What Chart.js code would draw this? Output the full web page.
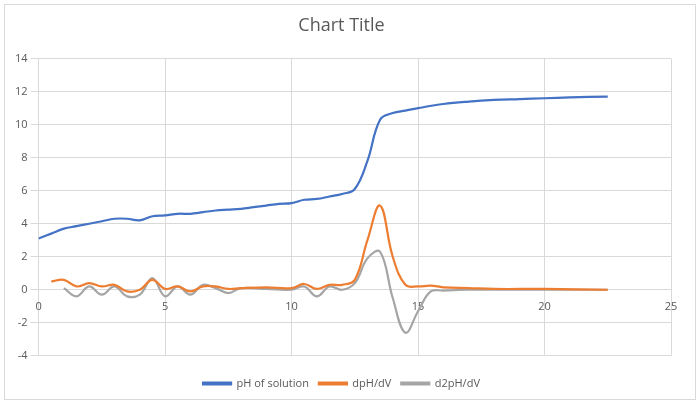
<!DOCTYPE html>
<html>
<head>
<script src="https://cdn.jsdelivr.net/npm/chart.js@4"></script>
<style>
  body { margin: 0; background: #fff; }
  #wrap { position: absolute; left: 4px; top: 4px; width: 690px; height: 394px; border: 1px solid #d9d9d9; }
</style>
</head>
<body>
<div id="wrap"><canvas id="c" width="690" height="394"></canvas></div>
<script>
const phX = [0, 0.5, 1, 1.5, 2, 2.5, 3, 3.5, 4, 4.5, 5, 5.5, 6, 6.5, 7, 7.5, 8, 8.5, 9, 9.5, 10, 10.5, 11, 11.5, 12, 12.5, 13, 13.5, 14, 14.5, 15, 16, 17, 18, 19, 20, 21, 22.5];
const phY = [3.1, 3.4, 3.7, 3.85, 4.0, 4.15, 4.3, 4.3, 4.2, 4.45, 4.5, 4.6, 4.6, 4.7, 4.8, 4.85, 4.9, 5.0, 5.1, 5.2, 5.25, 5.45, 5.5, 5.65, 5.8, 6.1, 7.8, 10.3, 10.7, 10.85, 11.0, 11.25, 11.4, 11.5, 11.55, 11.6, 11.65, 11.7];

const d1X = [0.5, 1, 1.5, 2, 2.5, 3, 3.5, 4, 4.5, 5, 5.5, 6, 6.5, 7, 7.5, 8, 9, 10, 10.5, 11, 11.5, 12, 12.5, 13, 13.5, 14, 14.5, 15, 15.5, 16, 17, 18, 20, 22.5];
const d1Y = [0.5, 0.6, 0.2, 0.4, 0.2, 0.3, -0.1, 0.0, 0.6, 0.05, 0.2, -0.1, 0.2, 0.2, 0.05, 0.1, 0.15, 0.1, 0.35, 0.05, 0.3, 0.3, 0.6, 3.0, 5.1, 2.0, 0.3, 0.2, 0.25, 0.15, 0.1, 0.05, 0.05, 0.0];

const d2X = [1, 1.5, 2, 2.5, 3, 3.5, 4, 4.5, 5, 5.5, 6, 6.5, 7, 7.5, 8, 9, 10, 10.5, 11, 11.5, 12, 12.5, 13, 13.5, 14, 14.5, 15, 15.5, 16, 17, 20, 22.5];
const d2Y = [0.1, -0.4, 0.2, -0.3, 0.2, -0.4, -0.3, 0.7, -0.4, 0.2, -0.3, 0.3, 0.1, -0.2, 0.1, 0.05, 0.0, 0.2, -0.4, 0.2, 0.0, 0.4, 1.9, 2.3, -0.5, -2.6, -1.3, -0.1, -0.05, 0, 0, 0];

const pts = (xs, ys) => xs.map((x, i) => ({ x: x, y: ys[i] }));
const ds = (label, xs, ys, color) => ({
  label: label, data: pts(xs, ys), borderColor: color, backgroundColor: color,
  borderWidth: 2.2, pointRadius: 0, tension: 0.4, showLine: true
});

new Chart(document.getElementById("c"), {
  type: "scatter",
  data: {
    datasets: [
      ds("pH of solution", phX, phY, "#4472C4"),
      ds("dpH/dV", d1X, d1Y, "#ED7D31"),
      ds("d2pH/dV", d2X, d2Y, "#A5A5A5")
    ]
  },
  options: {
    responsive: false,
    animation: false,
    layout: { padding: { left: 7, right: 24, top: 0, bottom: 0 } },
    plugins: {
      title: { display: true, text: "Chart Title", color: "#595959", font: { family: "Open Sans", size: 18, weight: "normal" }, padding: { top: 10, bottom: 22 } },
      legend: {
        position: "bottom",
        title: { display: true, text: " ", font: { size: 1 }, padding: { top: 0, bottom: 11 } },
        labels: { boxWidth: 28, boxHeight: 2, color: "#595959", font: { family: "Open Sans", size: 11 } }
      },
      tooltip: { enabled: false }
    },
    scales: {
      x: {
        type: "linear", min: 0, max: 25, position: { y: 0 },
        ticks: { stepSize: 5, color: "#595959", font: { family: "Open Sans", size: 11 } },
        grid: { color: "#d9d9d9" },
        border: { color: "#d9d9d9" }
      },
      y: {
        min: -4, max: 14,
        ticks: { stepSize: 2, color: "#595959", font: { family: "Open Sans", size: 11 } },
        grid: { color: "#d9d9d9" },
        border: { display: false }
      }
    }
  }
});
</script>
</body>
</html>
